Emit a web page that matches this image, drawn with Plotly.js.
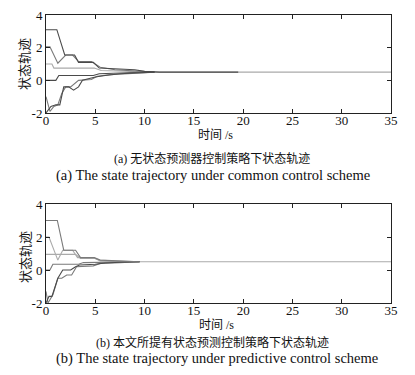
<!DOCTYPE html>
<html>
<head>
<meta charset="utf-8">
<script src="https://cdn.plot.ly/plotly-3.0.1.min.js"></script>
<style>html,body{margin:0;padding:0;background:#fff;}#chart{width:415px;height:375px;}</style>
</head>
<body>
<div id="chart"></div>
<script>
// ---- data: (a) common control scheme ----
var a1_t = [0, 1.1, 1.9, 2.9, 3.3, 4.8, 5.4, 7.0, 9.0, 10.0, 11.5, 19.5];
var a1_v = [3.1, 3.1, 1.55, 1.55, 1.1, 1.1, 0.75, 0.7, 0.65, 0.55, 0.5, 0.5];
var a2_t = [0, 0.4, 1.2, 2.0, 2.7, 3.3, 4.6, 5.5, 7.0, 9.5, 11.0];
var a2_v = [2.05, 2.05, 1.05, 1.55, 1.55, 1.15, 1.15, 0.8, 0.65, 0.55, 0.5];
var a3_t = [0, 0.6, 0.8, 4.9, 5.6, 7.5, 9.5, 11.0, 35];
var a3_v = [1.0, 1.0, 0.75, 0.75, 0.6, 0.55, 0.52, 0.5, 0.5];
var a4_t = [0, 1.0, 1.3, 4.8, 5.4, 7.0, 9.0, 11.0];
var a4_v = [0.0, 0.0, 0.3, 0.3, 0.4, 0.45, 0.48, 0.5];
var a5_t = [0, 0.4, 0.8, 1.2, 1.6, 2.0, 2.5, 2.9, 3.3, 4.6, 5.2, 6.5, 8.0, 9.5, 11.0];
var a5_v = [-1.0, -1.9, -1.6, -1.5, -0.8, -0.4, -0.4, -0.2, 0.0, 0.05, 0.25, 0.35, 0.4, 0.45, 0.5];
var a6_t = [0, 0.5, 1.0, 1.4, 1.8, 2.3, 2.8, 3.3, 3.7, 5.0, 6.0, 7.5, 9.0, 11.0];
var a6_v = [-2.0, -1.6, -1.5, -1.5, -0.4, -0.4, -0.6, -0.4, 0.0, 0.2, 0.3, 0.4, 0.45, 0.5];

// ---- data: (b) predictive control scheme ----
var b1_t = [0, 1.15, 1.8, 3.0, 3.5, 4.9, 5.5, 7.0, 8.5, 9.5];
var b1_v = [3.0, 3.0, 1.2, 1.2, 0.75, 0.75, 0.6, 0.55, 0.52, 0.5];
var b2_t = [0, 0.3, 1.2, 1.7, 2.7, 3.2, 4.8, 5.4, 7.0, 9.5];
var b2_v = [2.0, 2.0, 0.6, 1.2, 1.2, 0.75, 0.75, 0.6, 0.55, 0.5];
var b3_t = [0, 3.0, 3.5, 5.0, 5.5, 7.5, 9.5, 35];
var b3_v = [0.95, 0.95, 0.7, 0.7, 0.55, 0.52, 0.5, 0.5];
var b4_t = [0, 0.4, 0.7, 3.3, 3.8, 5.2, 7.0, 9.5];
var b4_v = [0.0, 0.0, 0.35, 0.35, 0.45, 0.45, 0.48, 0.5];
var b5_t = [0, 0.2, 0.7, 1.2, 1.6, 2.1, 2.6, 3.1, 4.8, 5.5, 7.5, 9.5];
var b5_v = [-1.3, -2.0, -1.5, -0.5, -0.5, -0.3, -0.3, 0.2, 0.25, 0.4, 0.45, 0.5];
var b6_t = [0, 0.3, 0.6, 1.2, 1.7, 2.5, 3.0, 3.4, 5.0, 6.0, 7.5, 9.5];
var b6_v = [-2.0, -1.6, -1.6, -0.5, 0.0, 0.0, 0.2, 0.3, 0.35, 0.42, 0.47, 0.5];

var xTicks = [0, 5, 10, 15, 20, 25, 30, 35];
var yTicks = [-2, 0, 2, 4];
var yTitle = '状态轨迹';
var xTitle = '时间 /s';
var capA1 = '(a) 无状态预测器控制策略下状态轨迹';
var capA2 = '(a) The state trajectory under common control scheme';
var capB1 = '(b) 本文所提有状态预测控制策略下状态轨迹';
var capB2 = '(b) The state trajectory under predictive control scheme';

var dark = '#4a4a4a', mid = '#7a7a7a', light = '#aaaaaa';
function tr(x, y, c, ax) {
  return {x: x, y: y, type: 'scatter', mode: 'lines', line: {color: c, width: 1.1},
          xaxis: ax === 1 ? 'x' : 'x2', yaxis: ax === 1 ? 'y' : 'y2', hoverinfo: 'none'};
}
var data = [
  tr(a3_t, a3_v, light, 1), tr(a2_t, a2_v, mid, 1), tr(a4_t, a4_v, dark, 1),
  tr(a5_t, a5_v, mid, 1), tr(a6_t, a6_v, dark, 1), tr(a1_t, a1_v, dark, 1),
  tr(b3_t, b3_v, light, 2), tr(b2_t, b2_v, light, 2), tr(b4_t, b4_v, mid, 2),
  tr(b5_t, b5_v, mid, 2), tr(b6_t, b6_v, dark, 2), tr(b1_t, b1_v, mid, 2)
];

var serif = '"Liberation Serif", "Times New Roman", "Noto Sans CJK SC", serif';
var font = {family: serif, size: 13, color: '#111'};
var cjk = {family: serif, size: 12, color: '#111'};
var ytf = {family: serif, size: 13, color: '#111'};
var eng = {family: serif, size: 14.5, color: '#111'};
function xa(dom, anchor) {
  return {domain: dom, anchor: anchor, range: [0, 35], tickvals: xTicks, ticktext: xTicks.map(String),
          ticks: 'inside', ticklen: 4, tickcolor: '#222', showline: true, linecolor: '#222', linewidth: 1,
          mirror: 'ticks', showgrid: false, zeroline: false, tickfont: font, fixedrange: true,
          ticklabelstandoff: -5};
}
function ya(dom, anchor) {
  return {domain: dom, anchor: anchor, range: [-2, 4], tickvals: yTicks, ticktext: yTicks.map(String),
          ticks: 'inside', ticklen: 4, tickcolor: '#222', showline: true, linecolor: '#222', linewidth: 1,
          mirror: 'ticks', showgrid: false, zeroline: false, tickfont: font, fixedrange: true};
}
function ann(text, px, py, f, ang) {
  return {text: text, x: px / 415, y: 1 - py / 375, xref: 'paper', yref: 'paper', showarrow: false,
          xanchor: 'center', yanchor: 'middle', textangle: ang || 0, font: f};
}
var X0 = 46 / 415, X1 = 391 / 415;
var layout = {
  width: 415, height: 375, margin: {l: 0, r: 0, t: 0, b: 0},
  paper_bgcolor: '#fff', plot_bgcolor: '#fff', showlegend: false,
  xaxis: xa([X0, X1], 'y'), yaxis: ya([1 - 113 / 375, 1 - 15 / 375], 'x'),
  xaxis2: xa([X0, X1], 'y2'), yaxis2: ya([1 - 303 / 375, 1 - 204 / 375], 'x2'),
  annotations: [
    ann(yTitle, 25, 64, ytf, -90),
    ann(yTitle, 25, 257, ytf, -90),
    ann(xTitle, 215, 135, cjk),
    ann(xTitle, 216, 325, cjk),
    ann(capA1, 212, 159, cjk),
    ann(capA2, 213, 175, eng),
    ann(capB1, 213, 342, cjk),
    ann(capB2, 217, 358, eng)
  ]
};
Plotly.newPlot('chart', data, layout, {staticPlot: true, displayModeBar: false});
</script>
</body>
</html>
